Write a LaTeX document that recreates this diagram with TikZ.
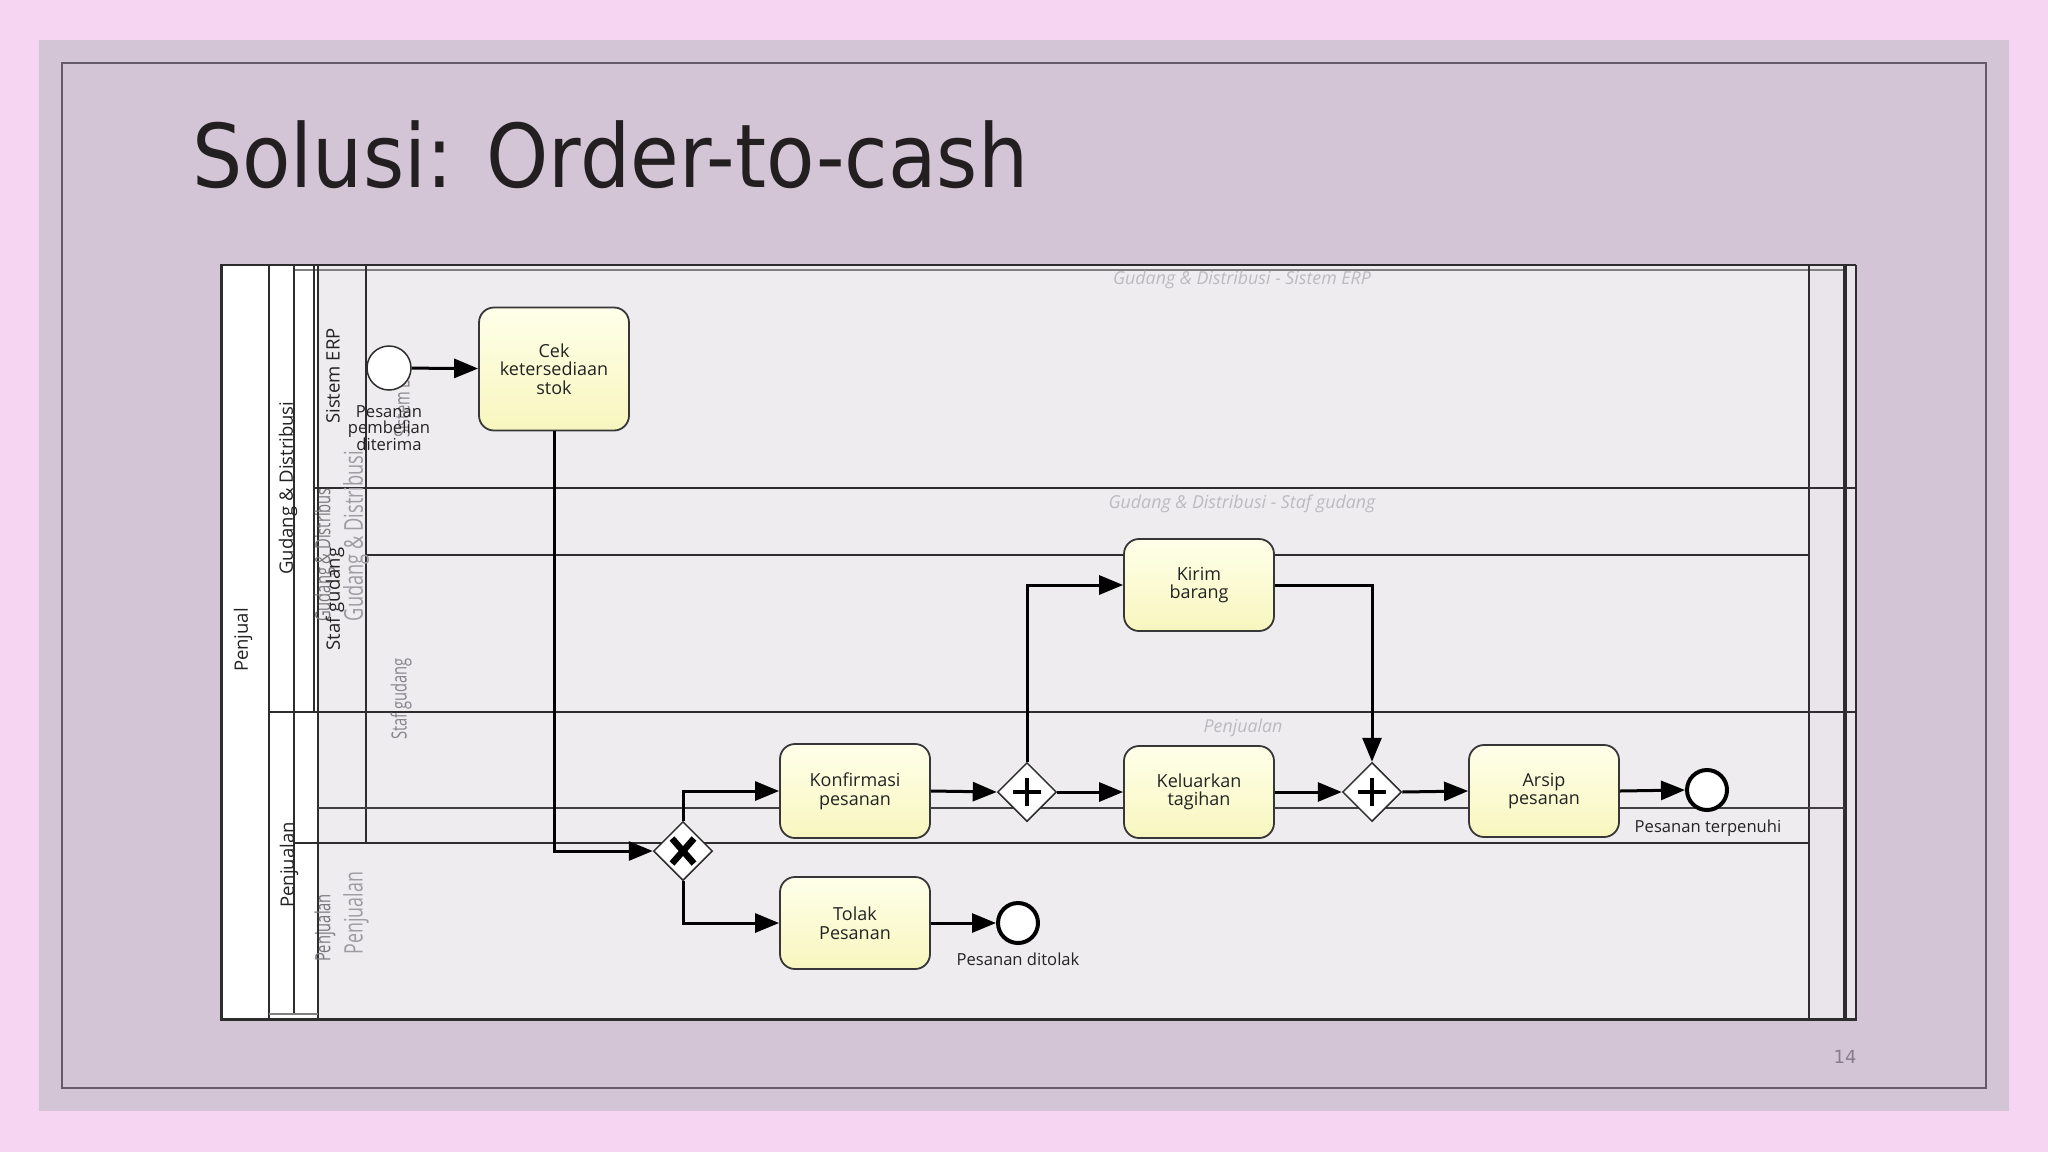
\documentclass[tikz,border=0pt]{standalone}
\usepackage{fontspec}
\setmainfont{Open Sans}
\newfontfamily\titlefont[FakeStretch=0.9]{DejaVu Sans}
\newfontfamily\condfont[FakeStretch=0.7]{Open Sans}
\newfontfamily\pgnumfont{DejaVu Sans}
\usetikzlibrary{arrows.meta,shapes.geometric}
\definecolor{pinkbg}{RGB}{246,213,243}
\definecolor{slidebg}{RGB}{212,197,214}
\definecolor{bordergray}{RGB}{100,90,106}
\definecolor{lanebg}{RGB}{238,236,239}
\definecolor{sidebg}{RGB}{233,229,234}
\definecolor{lineC}{RGB}{45,45,45}
\definecolor{ghostA}{RGB}{120,120,124}
\definecolor{ghostB}{RGB}{158,156,162}
\definecolor{ghostC}{RGB}{135,133,140}
\definecolor{italicgray}{RGB}{188,186,191}
\definecolor{taskborder}{RGB}{55,55,55}
\definecolor{tasktop}{RGB}{255,255,234}
\definecolor{taskbot}{RGB}{248,246,190}
\definecolor{txt}{RGB}{35,35,35}
\definecolor{titlec}{RGB}{35,31,32}
\definecolor{pgnum}{RGB}{135,124,138}
\newcommand\myTask{\fontsize{18}{18.6}\selectfont}
\newcommand\myLbl{\fontsize{16.6}{16.8}\selectfont}
\newcommand\myItal{\fontsize{17.8}{18}\selectfont}
\newcommand\myLane{\fontsize{18.5}{20}\selectfont}
\begin{document}
\begin{tikzpicture}[x=1pt,y=-1pt,
  task/.style={draw=taskborder, line width=1.8pt, rounded corners=15pt,
    top color=tasktop, bottom color=taskbot, minimum width=150pt,
    minimum height=92pt, align=center, font=\myTask, text=txt, inner sep=2pt},
  gw/.style={diamond, draw=lineC, fill=white, line width=1.5pt,
    minimum width=59pt, minimum height=59pt, inner sep=0pt},
  startev/.style={circle, draw=lineC, fill=white, line width=1.5pt,
    minimum size=44pt, inner sep=0pt},
  endev/.style={circle, draw=black, fill=white, line width=4pt,
    minimum size=40pt, inner sep=0pt},
  flow/.style={line width=3pt, black, -{Triangle[length=24pt,width=19pt]}},
  frame/.style={draw=lineC, line width=2pt},
  thinframe/.style={draw=lineC, line width=1.1pt},
  lanelbl/.style={rotate=90, font=\myLane, text=txt, inner sep=0pt},
  evlbl/.style={font=\myLbl, text=txt, align=center, inner sep=0pt},
  itlbl/.style={font=\myItal\itshape, text=italicgray, inner sep=0pt},
  ghost/.style={rotate=90, inner sep=0pt}
]
\useasboundingbox (0,0) rectangle (2048,1152);
\fill[pinkbg] (0,0) rectangle (2048,1152);
\fill[slidebg] (39,40) rectangle (2009,1111);
\draw[bordergray, line width=1.6pt] (62,63) rectangle (1986,1088);

% title
\node[anchor=base west, inner sep=0pt, text=titlec,
  font=\titlefont\fontsize{88}{88}\selectfont] (title) at (192,187) {Solusi: Order-to-cash};
\node[inner sep=0pt, text=pgnum, font=\pgnumfont\fontsize{18}{18}\selectfont] (pg) at (1845,1057) {14};

% diagram background
\fill[white] (221,265) rectangle (318,1019);
\fill[lanebg] (318,266) rectangle (1856,1019);
\fill[sidebg] (1809,266) rectangle (1856,1019);

% frame lines
\draw[frame] (220,265) -- (1856,265);
\draw[thinframe, draw=gray] (294,270) -- (1845,270);
\draw[draw=lineC, line width=3pt] (221,265) -- (221,1021);
\draw[frame] (269,265) -- (269,1019);
\draw[frame] (294,265) -- (294,1014);
\draw[frame] (314,265) -- (314,712);
\draw[thinframe] (318,265) -- (318,1019);
\draw[frame] (366,265) -- (366,843);
\draw[frame] (1809,265) -- (1809,1019);
\draw[draw=lineC, line width=3.5pt] (1845,265) -- (1845,1021);
\draw[thinframe] (1856,265) -- (1856,1021);
\draw[frame] (314,488) -- (1856,488);
\draw[frame] (366,555) -- (1809,555);
\draw[frame] (269,712) -- (1856,712);
\draw[thinframe, draw=darkgray] (318,808) -- (1845,808);
\draw[frame] (294,843) -- (1809,843);
\draw[thinframe, draw=gray] (269,1014) -- (318,1014);
\draw[draw=lineC, line width=2.5pt] (220,1019.5) -- (1856,1019.5);

% lane labels
\node[lanelbl] (lpool) at (243,640) {Penjual};
\node[lanelbl] (lgd) at (288,488) {Gudang \& Distribusi};
\node[lanelbl] (lpj) at (289,865) {Penjualan};
\node[lanelbl] (lerp) at (333,376) {Sistem ERP};

% ghost labels
\node[ghost, text=ghostA, font=\condfont\fontsize{21}{21}\selectfont] (g1) at (325,555) {Gudang \& Distribus};
\node[ghost, text=ghostB, font=\condfont\fontsize{26}{26}\selectfont] (g2) at (356,536) {Gudang \& Distribusi};
\node[lanelbl] (lstaf) at (335,599) {Staf gudang};
\node[ghost, text=ghostC, font=\condfont\fontsize{21}{21}\selectfont] (g3) at (401,699) {Staf gudang};
\node[ghost, text=ghostC, font=\condfont\fontsize{21}{21}\selectfont] (g4) at (402,400) {Sistem ERP};
\node[ghost, text=ghostA, font=\condfont\fontsize{21}{21}\selectfont] (g5) at (325,928) {Penjualan};
\node[ghost, text=ghostB, font=\condfont\fontsize{25.5}{25.5}\selectfont] (g6) at (356,913) {Penjualan};

% italic lane titles
\node[itlbl] (t1) at (1242,280) {Gudang \& Distribusi - Sistem ERP};
\node[itlbl] (t2) at (1242,504) {Gudang \& Distribusi - Staf gudang};
\node[itlbl] (t3) at (1243,728) {Penjualan};

% flow nodes
\node[startev] (start) at (389,368) {};
\node[evlbl] (startlbl) at (389,428) {Pesanan\\pembelian\\diterima};
\node[task, minimum height=123pt] (cek) at (554,369) {Cek\\ketersediaan\\stok};
\node[gw] (xor) at (683,851) {};
\node[task, minimum height=94pt] (konf) at (855,791) {Konfirmasi\\pesanan};
\node[task] (tolak) at (855,923) {Tolak\\Pesanan};
\node[endev] (endno) at (1018,923) {};
\node[evlbl] (endnolbl) at (1018,959) {Pesanan ditolak};
\node[gw] (par1) at (1027,792) {};
\node[task] (kirim) at (1199,585) {Kirim\\barang};
\node[task] (kel) at (1199,792) {Keluarkan\\tagihan};
\node[gw] (par2) at (1372,792) {};
\node[task] (arsip) at (1544,791) {Arsip\\pesanan};
\node[endev] (endok) at (1707,790) {};
\node[evlbl] (endoklbl) at (1708,828) {Pesanan terpenuhi};

% gateway markers
\draw[line width=6.5pt, black, line cap=butt] (xor.center) ++(-11,-12.5) -- ++(22,25);
\draw[line width=6.5pt, black, line cap=butt] (xor.center) ++(11,-12.5) -- ++(-22,25);
\draw[line width=4pt, black] (par1.center) ++(-14,0) -- ++(28,0);
\draw[line width=4pt, black] (par1.center) ++(0,-14) -- ++(0,28);
\draw[line width=4pt, black] (par2.center) ++(-14,0) -- ++(28,0);
\draw[line width=4pt, black] (par2.center) ++(0,-14) -- ++(0,28);

% sequence flows
\draw[flow] (start) -- (cek);
\draw[flow] (cek.south) |- (xor.west);
\draw[flow] (xor.north) |- (konf.west);
\draw[flow] (xor.south) |- (tolak.west);
\draw[flow] (konf.east) -- (par1.west);
\draw[flow] (par1.north) |- (kirim.west);
\draw[flow] (par1.east) -- (kel.west);
\draw[flow] (kirim.east) -| (par2.north);
\draw[flow] (kel.east) -- (par2.west);
\draw[flow] (par2.east) -- (arsip.west);
\draw[flow] (arsip.east) -- (endok.west);
\draw[flow] (tolak.east) -- (endno.west);
\end{tikzpicture}
\end{document}
